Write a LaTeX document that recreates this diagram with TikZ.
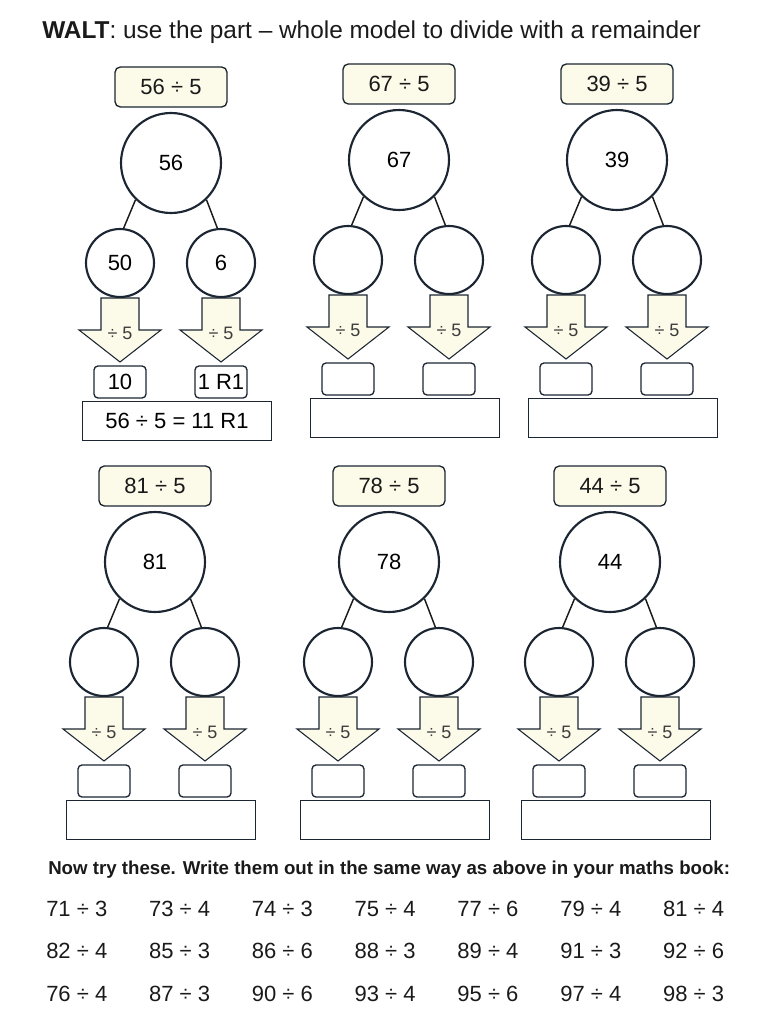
\documentclass[tikz,border=0pt]{standalone}
\usepackage{fontspec}
\setmainfont{Liberation Sans}
\usetikzlibrary{calc}
\definecolor{cream}{HTML}{FCFAE8}
\definecolor{navy}{HTML}{1C2633}
\definecolor{ink}{HTML}{1A1A1A}
\tikzset{
  lbl/.style={draw=navy, line width=1pt, fill=cream, rounded corners=4pt, minimum width=84pt, minimum height=30pt, font=\fontsize{16.5}{16.5}\selectfont, text=ink},
  bigc/.style={circle, draw=navy, line width=1.6pt, fill=white, minimum size=75pt, inner sep=0pt, font=\fontsize{16.5}{16.5}\selectfont},
  smallc/.style={circle, draw=navy, line width=1.6pt, fill=white, minimum size=51pt, inner sep=0pt, font=\fontsize{16.5}{16.5}\selectfont},
  ansb/.style={draw=navy, line width=1pt, rounded corners=3pt, fill=white, minimum width=39pt, minimum height=24pt, inner sep=0pt, font=\fontsize{16.5}{16.5}\selectfont},
  botb/.style={draw=navy, line width=1pt, fill=white, minimum width=142pt, minimum height=29pt, inner sep=0pt, font=\fontsize{16.5}{16.5}\selectfont},
  arr/.style={draw=navy, line width=0.8pt, fill=cream, line join=miter},
  arrtxt/.style={font=\fontsize{13.5}{13.5}\selectfont, text=ink!85},
  link/.style={draw=ink, line width=1.1pt},
  sumt/.style={anchor=west, inner sep=0pt, font=\fontsize{16.5}{16.5}\selectfont, text=ink},
}
\newcommand\mkarrow[1]{%
  \draw[arr] ($(#1)+(-19,35)$) -- ($(#1)+(19,35)$) -- ($(#1)+(19,67)$) -- ($(#1)+(41,67)$) -- ($(#1)+(0,99)$) -- ($(#1)+(-41,67)$) -- ($(#1)+(-19,67)$) -- cycle;
  \node[arrtxt] at ($(#1)+(0,70)$) {÷ 5};}
\newcommand\panel[5]{% name, x, y, label, number
  \node[lbl] (#1lab) at (#2,#3-76) {#4};
  \node[bigc] (#1c) at (#2,#3) {#5};
  \node[smallc] (#1l) at (#2-51,#3+100) {};
  \node[smallc] (#1r) at (#2+50,#3+100) {};
  \draw[link] (#1c.226) -- (#1l.84);
  \draw[link] (#1c.314) -- (#1r.96);
  \mkarrow{#1l}\mkarrow{#1r}
  \node[ansb] (#1la) at (#2-51,#3+219) {};
  \node[ansb] (#1ra) at (#2+50,#3+219) {};
  \node[botb] (#1b) at (#2+6,#3+258) {};}
\begin{document}
\begin{tikzpicture}[x=0.75pt,y=-0.75pt]
\useasboundingbox (0,0) rectangle (768,1024);
\node[anchor=west, inner sep=0pt, font=\fontsize{18.3}{18.3}\selectfont, text=ink] (title) at (42,32) {\textbf{WALT}: use the part – whole model to divide with a remainder};
\panel{pa}{171}{163}{56 ÷ 5}{56}
\panel{pb}{399}{160}{67 ÷ 5}{67}
\panel{pc}{617}{160}{39 ÷ 5}{39}
\panel{pd}{155}{562}{81 ÷ 5}{81}
\panel{pe}{389}{562}{78 ÷ 5}{78}
\panel{pf}{610}{562}{44 ÷ 5}{44}
\node[font=\fontsize{16.5}{16.5}\selectfont] at (pal) {50};
\node[font=\fontsize{16.5}{16.5}\selectfont] at (par) {6};
\node[font=\fontsize{16.5}{16.5}\selectfont] at (pala) {10};
\node[font=\fontsize{16.5}{16.5}\selectfont] at (para) {1 R1};
\node[font=\fontsize{16.5}{16.5}\selectfont] at (pab) {56 ÷ 5 = 11 R1};
\node[anchor=west, inner sep=0pt, font=\bfseries\fontsize{14}{14}\selectfont, text=ink] (now) at (48,870) {Now try these. Write them out in the same way as above in your maths book:};
\foreach \r/\y/\list in {0/909/{71 ÷ 3,73 ÷ 4,74 ÷ 3,75 ÷ 4,77 ÷ 6,79 ÷ 4,81 ÷ 4},1/951/{82 ÷ 4,85 ÷ 3,86 ÷ 6,88 ÷ 3,89 ÷ 4,91 ÷ 3,92 ÷ 6},2/994/{76 ÷ 4,87 ÷ 3,90 ÷ 6,93 ÷ 4,95 ÷ 6,97 ÷ 4,98 ÷ 3}}{
  \foreach \t [count=\i] in \list {
    \node[sumt] (s\r-\i) at ({46+(\i-1)*102.8},\y) {\t};
  }
}
\end{tikzpicture}
\end{document}
